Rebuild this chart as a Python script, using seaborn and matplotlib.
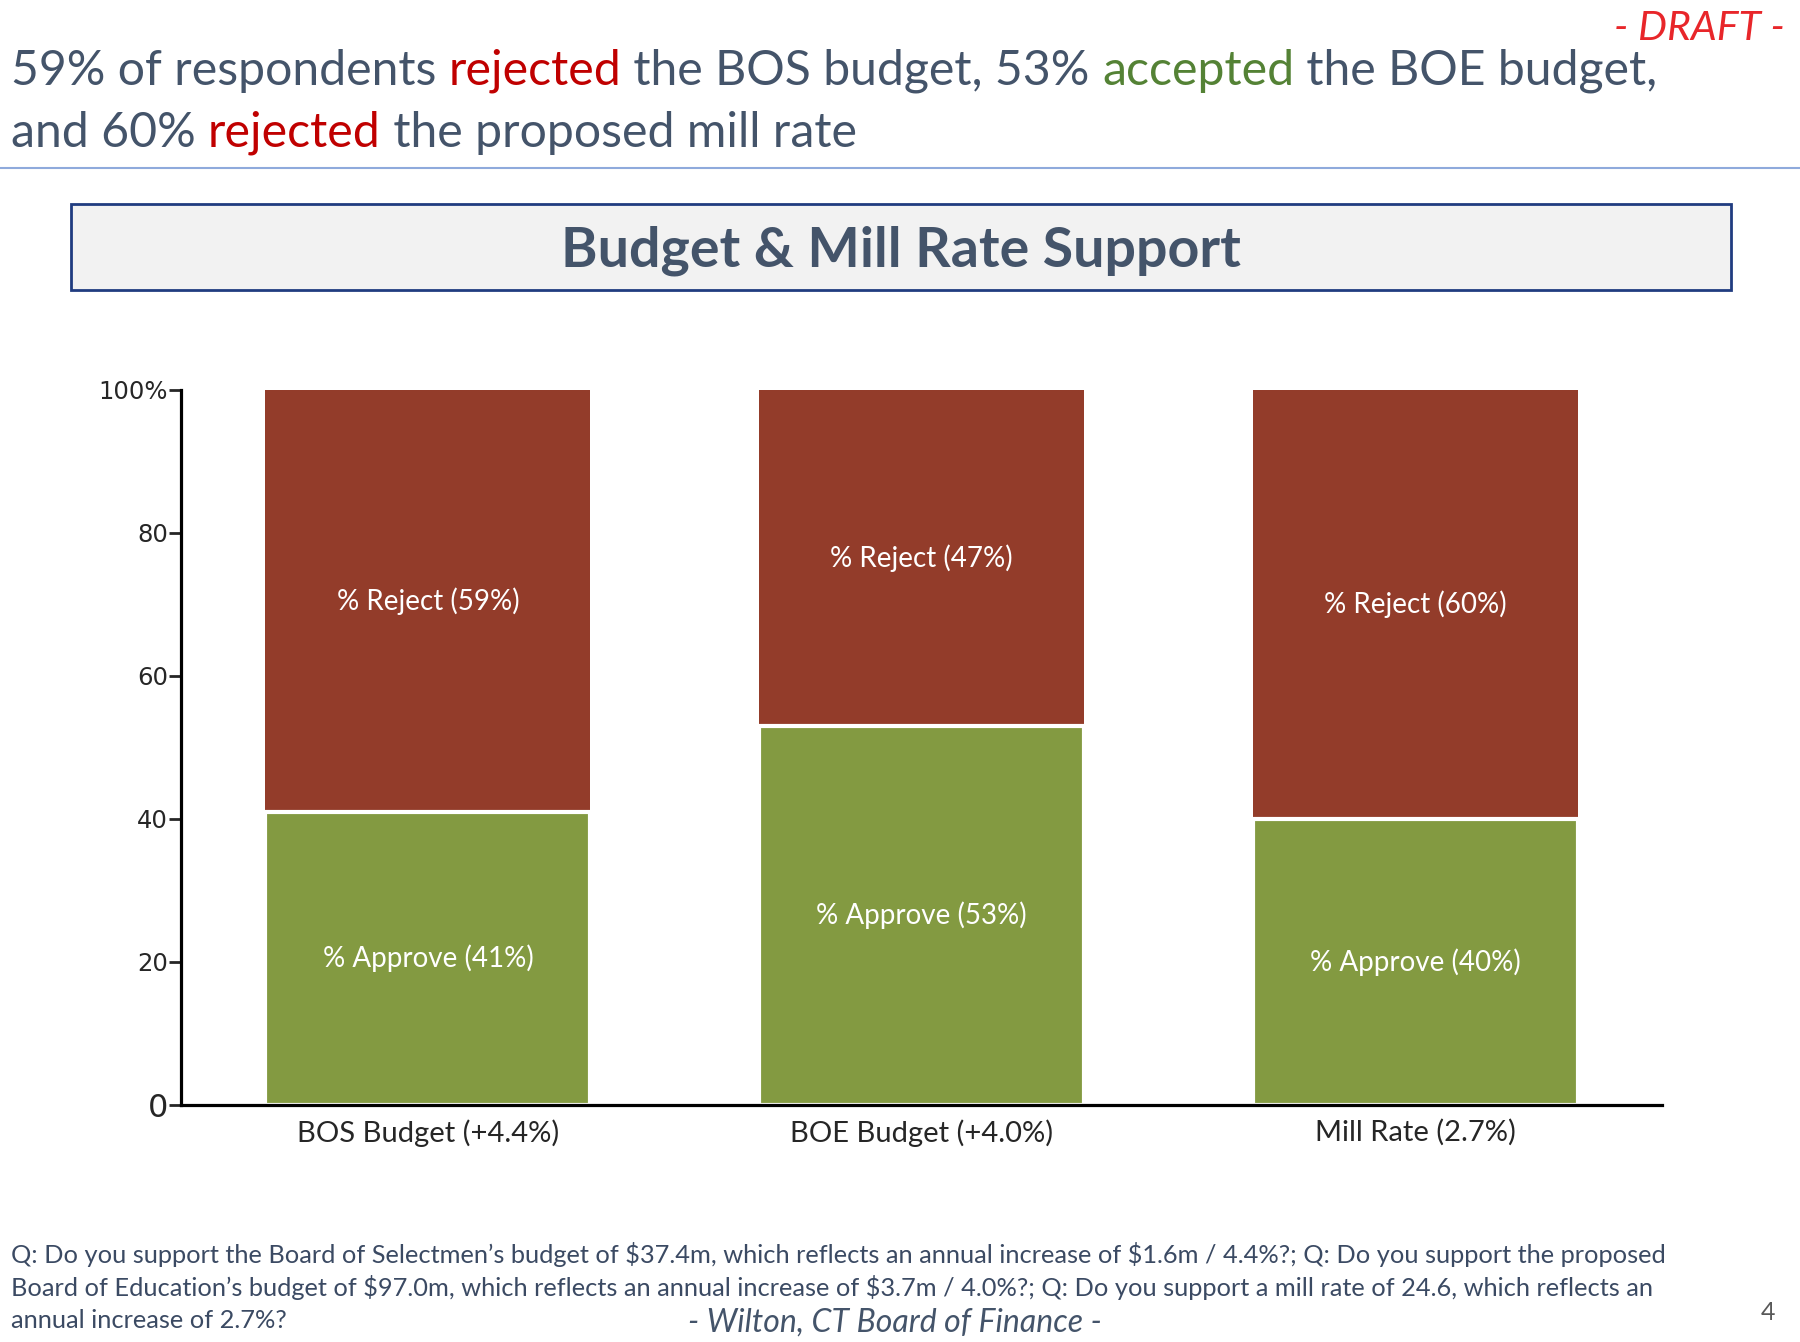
import seaborn as sns
import matplotlib.pyplot as plt
import matplotlib.patches as patches
import pandas as pd

# datos
preguntas = ["BOS Budget (+4.4%)", "BOE Budget (+4.0%)", "Mill Rate (2.7%)"]
aprobar = [41, 53, 40]
rechazar = [59, 47, 60]
ticks_y = [0, 20, 40, 60, 80, 100]
etiquetas_y = ["0", "20", "40", "60", "80", "100%"]

rojo = "#933c2a"
verde = "#839a41"
gris_azul = "#44546a"

df = pd.DataFrame({"pregunta": preguntas, "aprobar": aprobar, "rechazar": rechazar})
df["total"] = df["aprobar"] + df["rechazar"]

sns.set_style("white")
plt.rcParams["font.family"] = ["Lato", "DejaVu Sans"]

fig = plt.figure(figsize=(18, 13.42), dpi=100)
ax = fig.add_axes([0.1006, 0.1766, 0.8228, 0.5328])

# barras apiladas: total en rojo, aprobado encima en verde
sns.barplot(data=df, x="pregunta", y="total", color=rojo, saturation=1,
            width=0.658, edgecolor="white", linewidth=0, ax=ax)
sns.barplot(data=df, x="pregunta", y="aprobar", color=verde, saturation=1,
            width=0.658, edgecolor="white", linewidth=3, ax=ax)

for i, (a, r) in enumerate(zip(aprobar, rechazar)):
    ax.text(i, a / 2, f"% Approve ({a}%)", ha="center", va="center",
            color="white", fontsize=20)
    ax.text(i, a + r / 2, f"% Reject ({r}%)", ha="center", va="center",
            color="white", fontsize=20)

ax.set_xlim(-0.5, 2.5)
ax.set_ylim(0, 100)
ax.set_xlabel("")
ax.set_ylabel("")
ax.set_yticks(ticks_y)
ax.set_yticklabels(etiquetas_y, fontsize=17.5, family="DejaVu Sans")
ax.get_yticklabels()[0].set_fontsize(23)
ax.tick_params(axis="y", length=8.5, width=2, direction="out", left=True, pad=1)
ax.tick_params(axis="x", length=0, labelsize=21, pad=10)
for s in ["top", "right"]:
    ax.spines[s].set_visible(False)
for s in ["left", "bottom"]:
    ax.spines[s].set_linewidth(2.3)
    ax.spines[s].set_color("black")

# titulo con palabras de colores
renderer = fig.canvas.get_renderer()
def texto_colores(partes, x, y, size):
    for txt, col in partes:
        t = fig.text(x, y, txt, color=col, fontsize=size, va="baseline", ha="left")
        bb = t.get_window_extent(renderer=renderer)
        x += bb.width / fig.bbox.width

linea1 = [("59% of respondents ", gris_azul), ("rejected", "#c00000"),
          (" the BOS budget, 53% ", gris_azul), ("accepted", "#548235"),
          (" the BOE budget,", gris_azul)]
linea2 = [("and 60% ", gris_azul), ("rejected", "#c00000"),
          (" the proposed mill rate", gris_azul)]
texto_colores(linea1, 0.006, 0.9367, 34.7)
texto_colores(linea2, 0.006, 0.8905, 34.7)

fig.text(0.9917, 0.970, "- DRAFT -", color="#e8262a", fontsize=29.5,
         style="italic", ha="right", va="baseline")

fig.add_artist(plt.Line2D([0, 1], [0.8748, 0.8748], color="#8faadc", lw=1.5,
                          transform=fig.transFigure))

caja = patches.Rectangle((0.0394, 0.7839), 0.9223, 0.0641, transform=fig.transFigure,
                         facecolor="#f2f2f2", edgecolor="#203c80", lw=2)
fig.add_artist(caja)
fig.text(0.5006, 0.8135, "Budget & Mill Rate Support", color=gris_azul, fontsize=40,
         fontweight="bold", ha="center", va="center")

pie = ["Q: Do you support the Board of Selectmen\u2019s budget of \\$37.4m, which reflects an annual increase of \\$1.6m / 4.4%?; Q: Do you support the proposed",
       "Board of Education\u2019s budget of \\$97.0m, which reflects an annual increase of \\$3.7m / 4.0%?; Q: Do you support a mill rate of 24.6, which reflects an",
       "annual increase of 2.7%?"]
for txt, y in zip(pie, [0.0589, 0.0343, 0.0104]):
    fig.text(0.006, y, txt, color="#3b4a63", fontsize=18.3, va="baseline", ha="left")

fig.text(0.497, 0.0075, "- Wilton, CT Board of Finance -", color=gris_azul, fontsize=23,
         style="italic", ha="center", va="baseline")
fig.text(0.982, 0.0164, "4", color="#595959", fontsize=18, ha="center", va="baseline")

fig.savefig("out.png", dpi=100)
